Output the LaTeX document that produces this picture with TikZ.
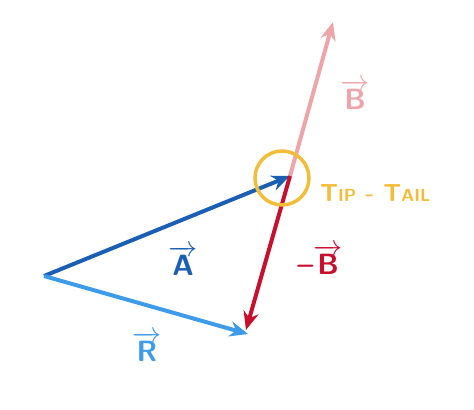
\documentclass[tikz,border=0pt]{standalone}
\usetikzlibrary{arrows.meta}
\definecolor{vecA}{HTML}{1A5FB4}
\definecolor{vecR}{HTML}{3D9BE9}
\definecolor{negB}{HTML}{C8102E}
\definecolor{vecB}{HTML}{EDA5AA}
\definecolor{tiptail}{HTML}{F2BE3A}
\tikzset{
  vector/.style={line width=3.4pt, -{Stealth[length=5.5mm,width=4.6mm]}},
  veclabel/.style={font=\fontsize{25}{28}\selectfont\sffamily\bfseries}
}
\newcommand{\vlabel}[1]{$\overrightarrow{\textsf{\bfseries #1}}$}
\newcommand{\smallcap}[1]{{\fontsize{15}{18}\selectfont #1}}
\begin{document}
\begin{tikzpicture}[x=0.03cm,y=0.03cm]
                \useasboundingbox (0,0) rectangle (474,409);
                \coordinate (origin) at (44,133);
                \coordinate (tipA) at (290,233);
                \coordinate (tipR) at (248,75);
                \coordinate (tipB) at (333,387);
                \coordinate (tipNegB) at (246,79);

                \draw[vector, vecB] (tipA) -- (tipB);
                \draw[vector, vecA] (origin) -- (tipA);
                \draw[vector, vecR] (origin) -- (tipR);
                \draw[vector, negB] (tipA) -- (tipNegB);
                \draw[tiptail, line width=3pt] (282,231) circle (27) node (joint) {};

                \node[veclabel, text=vecA] (labelA) at (183,148) {\vlabel{A}};
                \node[veclabel, text=vecR] (labelR) at (147,62) {\vlabel{R}};
                \node[veclabel, text=negB] (labelNegB) at (320,149) {\textbf{--}\vlabel{B}};
                \node[veclabel, text=vecB] (labelB) at (355,314) {\vlabel{B}};
                \node[font=\fontsize{21}{24}\selectfont\sffamily\bfseries, text=tiptail, anchor=west] (labelTT) at (316,216) {T\smallcap{IP} - T\smallcap{AIL}};
            \end{tikzpicture}
\end{document}
